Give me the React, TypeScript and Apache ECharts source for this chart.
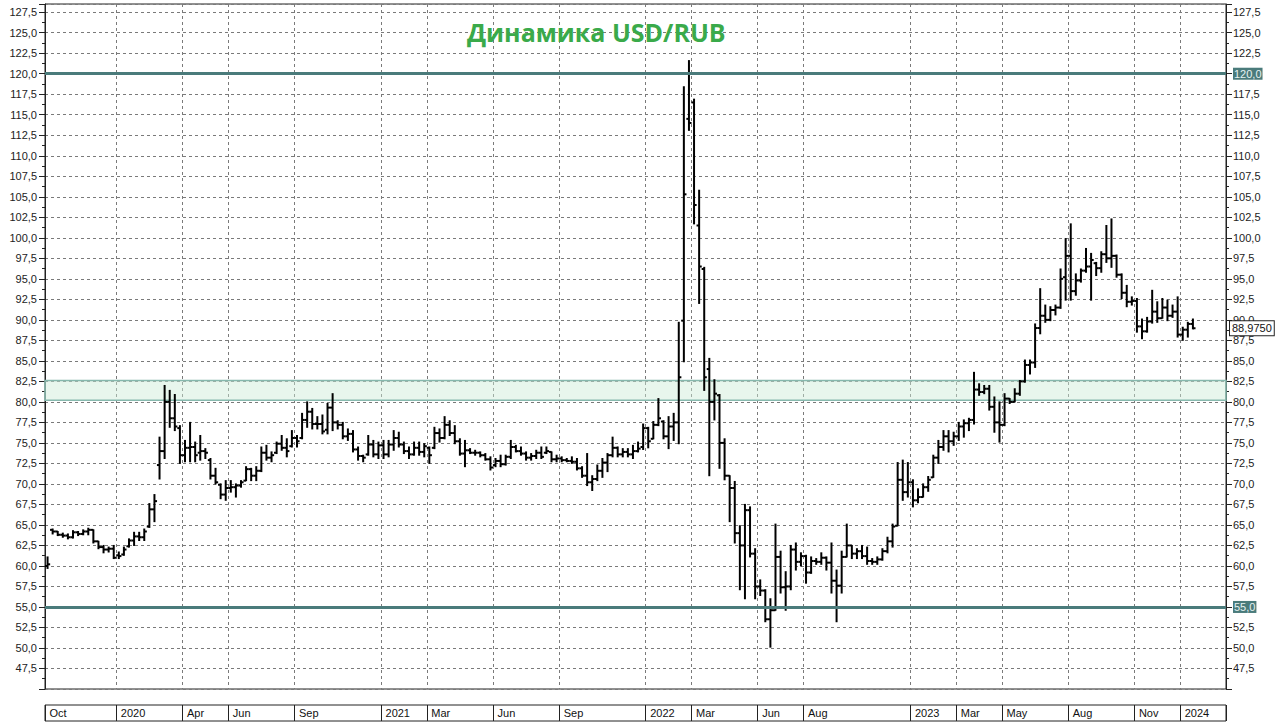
import React, { useEffect, useRef } from 'react';
import * as echarts from 'echarts';

// ---- chart texts & axis ticks ----
const titleText = 'Динамика USD/RUB';
const slotCount = 232; // weekly slots on the time axis (incl. empty slots at right)
const xTickIndex = [0, 14, 27, 36, 49, 66, 75, 88, 101, 118, 127, 140, 149, 170, 179, 188, 201, 214, 223];
const xTickLabels = ['Oct', '2020', 'Apr', 'Jun', 'Sep', '2021', 'Mar', 'Jun', 'Sep', '2022', 'Mar', 'Jun', 'Aug', '2023', 'Mar', 'May', 'Aug', 'Nov', '2024'];
const yMin = 45;
const yMax = 128.5;
const yStep = 2.5;
const levelLines = [120, 55];
const supportZone = [80.2, 82.6];
const lastPrice = 88.975;
const lastPriceLabel = '88,9750';

// ---- weekly OHLC bars: [open, high, low, close] ----
const bars2019 = [
  [60.0, 61.1, 59.7, 60.2], [64.4, 64.5, 63.9, 64.2], [64.2, 64.2, 63.7, 63.8], [63.8, 64.0, 63.5, 63.7],
  [63.7, 63.9, 63.3, 63.5], [63.5, 64.3, 63.4, 64.1], [64.1, 64.2, 63.7, 63.9], [63.9, 64.4, 63.8, 64.2],
  [64.2, 64.6, 63.8, 64.4], [64.4, 64.4, 62.8, 63.0], [63.0, 63.0, 62.1, 62.3], [62.3, 62.5, 61.6, 62.0],
  [62.0, 62.3, 61.7, 62.1], [62.1, 62.5, 60.9, 61.0],
];
const bars2020 = [
  [61.3, 61.7, 60.9, 61.2], [61.4, 62.3, 61.3, 62.0], [62.4, 63.3, 62.3, 63.1], [63.1, 64.1, 62.5, 63.6],
  [63.6, 64.1, 63.1, 63.5], [63.5, 64.5, 63.1, 64.2], [64.8, 67.6, 64.7, 66.9], [66.9, 68.7, 65.4, 67.9],
  [72.3, 75.7, 70.6, 74.0], [74.0, 82.0, 73.1, 80.0], [80.0, 81.4, 76.9, 78.0], [78.0, 80.9, 76.5, 77.0],
  [76.8, 77.1, 72.5, 73.5], [73.5, 75.3, 72.7, 74.4], [74.4, 77.5, 72.7, 74.5], [74.5, 75.1, 72.7, 73.5],
  [73.8, 75.9, 72.9, 74.0], [74.0, 74.3, 73.1, 73.8], [72.9, 73.1, 70.6, 71.0], [71.0, 71.9, 70.0, 70.2],
  [69.9, 70.0, 68.2, 68.7], [68.7, 70.4, 68.0, 69.5], [69.5, 70.4, 69.0, 69.6], [69.6, 70.0, 68.4, 69.8],
  [69.8, 70.4, 69.6, 70.2], [70.4, 72.1, 70.4, 71.8], [71.8, 71.9, 70.4, 71.0], [71.0, 72.1, 70.4, 71.6],
  [71.6, 74.5, 71.5, 73.8], [73.8, 74.7, 72.9, 73.2], [73.2, 73.9, 72.7, 73.5], [73.8, 75.1, 73.7, 74.9],
  [74.9, 75.9, 74.1, 74.4], [74.4, 75.5, 73.3, 74.0], [74.6, 76.5, 74.5, 75.6], [75.6, 75.9, 74.5, 75.2],
  [75.6, 78.6, 75.5, 77.8], [77.8, 80.0, 76.9, 78.8], [78.8, 79.2, 76.7, 77.3], [77.3, 78.2, 76.7, 77.3],
  [77.3, 78.4, 76.1, 76.4], [76.6, 79.8, 76.1, 79.3], [79.3, 81.0, 76.5, 77.5], [77.5, 77.7, 76.7, 77.2],
  [77.2, 77.5, 75.5, 75.8], [75.8, 76.7, 75.3, 76.1], [76.1, 76.5, 73.9, 74.2], [74.2, 74.5, 72.9, 73.4],
  [73.4, 73.5, 72.7, 73.2], [73.6, 75.9, 73.5, 74.8], [74.8, 75.3, 73.3, 73.6], [73.6, 75.1, 73.1, 74.7],
];
const bars2021 = [
  [74.7, 75.3, 73.1, 73.6], [73.6, 75.3, 73.3, 74.8], [74.8, 76.5, 74.1, 75.6], [75.6, 76.3, 74.5, 74.8],
  [74.8, 75.1, 73.7, 74.0], [74.0, 74.5, 73.1, 73.6], [73.6, 75.1, 73.5, 74.4], [74.4, 75.1, 73.5, 73.9],
  [73.9, 74.9, 73.3, 74.6], [74.4, 74.5, 72.5, 73.5], [74.4, 76.9, 74.3, 76.2], [76.2, 76.7, 75.1, 75.6],
  [75.6, 78.2, 75.5, 77.2], [77.2, 77.7, 75.9, 76.2], [76.2, 77.1, 74.9, 75.2], [75.2, 75.5, 73.5, 73.7],
  [73.7, 75.3, 72.1, 74.1], [74.1, 74.3, 73.7, 73.8], [73.8, 74.1, 73.5, 73.8], [73.8, 73.9, 73.3, 73.5],
  [73.5, 73.7, 72.9, 73.0], [73.0, 73.3, 71.7, 72.0], [72.3, 73.1, 72.1, 72.8], [72.8, 73.5, 72.1, 72.4],
  [72.4, 73.5, 72.3, 73.3], [73.3, 75.3, 73.1, 74.5], [74.5, 74.7, 73.9, 74.0], [74.0, 74.5, 73.5, 73.7],
  [73.7, 73.9, 72.9, 73.2], [73.2, 73.7, 72.9, 73.4], [73.4, 74.1, 73.1, 73.8], [73.8, 74.5, 73.1, 73.3],
  [73.8, 74.5, 73.7, 74.0], [73.9, 73.9, 72.7, 73.0], [73.0, 73.5, 72.7, 73.1], [73.1, 73.3, 72.7, 72.9],
  [72.9, 73.1, 72.7, 72.8], [72.8, 73.3, 72.5, 72.7], [72.7, 73.1, 71.7, 71.9], [71.9, 72.1, 70.8, 71.0],
  [71.0, 73.7, 69.8, 70.2], [70.2, 71.0, 69.2, 70.6], [70.6, 72.3, 70.4, 71.6], [71.6, 73.1, 70.8, 72.6],
  [72.6, 73.7, 71.5, 73.5], [73.5, 75.7, 73.3, 74.4], [74.4, 74.5, 73.3, 73.6], [73.6, 74.3, 73.3, 73.9],
  [73.9, 74.3, 73.3, 73.6], [73.6, 74.7, 73.1, 74.0], [74.0, 75.1, 73.9, 74.3], [74.5, 77.3, 74.2, 76.8],
];
const bars2022 = [
  [76.8, 76.9, 74.4, 75.2], [75.5, 77.6, 75.5, 77.2], [77.2, 80.4, 77.1, 78.0], [77.6, 77.7, 75.5, 75.8],
  [75.8, 78.2, 74.3, 77.0], [77.0, 78.6, 75.3, 77.5], [77.5, 89.7, 74.9, 83.0], [89.9, 118.4, 84.9, 105.3],
  [114.5, 121.6, 113.1, 114.0], [116.5, 116.9, 101.7, 104.0], [101.5, 105.8, 92.0, 96.5], [96.2, 96.4, 81.4, 83.0],
  [84.0, 85.3, 71.0, 80.0], [80.0, 82.7, 77.8, 81.0], [80.8, 80.9, 71.9, 75.0], [75.0, 75.5, 70.5, 71.0],
  [71.0, 71.0, 65.4, 69.5], [69.5, 70.3, 62.8, 64.0], [64.0, 64.9, 57.1, 62.5], [62.5, 67.5, 56.0, 66.8],
  [66.8, 67.2, 61.1, 61.5], [61.5, 62.1, 56.0, 57.5], [57.5, 58.3, 56.4, 57.0], [57.0, 57.1, 53.2, 53.5],
  [53.5, 56.0, 50.1, 54.6], [54.6, 65.1, 54.6, 61.1], [61.1, 61.8, 56.7, 57.4], [57.4, 59.3, 54.6, 57.5],
  [57.5, 62.5, 57.1, 62.0], [62.0, 62.8, 59.5, 60.5], [60.5, 61.6, 60.0, 61.2], [61.2, 61.3, 57.9, 59.2],
  [59.2, 61.1, 59.1, 60.6], [60.6, 60.9, 60.2, 60.5], [60.5, 61.6, 60.2, 61.0], [61.0, 61.1, 59.5, 60.4],
  [60.4, 62.8, 56.7, 58.2], [58.2, 59.5, 53.2, 57.6], [57.6, 61.8, 56.7, 61.1], [61.1, 65.1, 61.1, 62.5],
  [62.5, 62.5, 60.9, 61.5], [61.5, 62.1, 60.9, 61.8], [61.8, 62.5, 60.9, 61.2], [61.2, 62.3, 60.2, 60.6],
  [60.6, 60.9, 60.2, 60.5], [60.5, 61.1, 60.2, 60.8], [60.8, 62.1, 60.7, 61.8], [61.8, 63.5, 61.6, 63.0],
  [63.0, 65.1, 62.3, 64.8], [64.9, 72.6, 64.9, 70.5], [70.5, 72.9, 68.0, 69.0], [69.0, 72.6, 68.4, 70.2],
];
const bars2023 = [
  [70.2, 70.5, 67.2, 68.0], [68.0, 69.4, 67.7, 68.4], [68.4, 70.0, 68.4, 69.6], [69.6, 70.9, 69.1, 70.5],
  [70.8, 73.5, 70.8, 73.2], [73.2, 75.3, 72.5, 74.5], [74.5, 76.5, 74.1, 75.8], [75.8, 76.5, 73.9, 75.2],
  [75.2, 76.3, 74.7, 75.8], [75.8, 77.5, 75.3, 77.0], [77.0, 77.8, 75.7, 77.4], [77.4, 78.0, 76.5, 77.8],
  [77.8, 83.6, 77.3, 81.5], [81.5, 82.2, 80.8, 81.2], [81.2, 82.0, 81.0, 81.6], [81.6, 82.0, 79.0, 79.4],
  [79.4, 80.6, 76.3, 77.5], [77.5, 80.0, 75.1, 77.2], [77.2, 81.0, 77.1, 80.4], [80.4, 80.4, 79.8, 80.0],
  [80.0, 81.6, 80.0, 81.0], [81.0, 82.6, 80.8, 82.5], [82.5, 85.1, 82.4, 84.5], [84.5, 85.1, 83.4, 84.8],
  [84.8, 89.5, 84.2, 89.0], [89.0, 93.8, 88.3, 90.5], [90.5, 91.8, 89.7, 90.0], [90.0, 91.6, 89.9, 91.2],
  [91.2, 91.8, 90.6, 91.5], [91.5, 96.2, 91.4, 95.0], [95.2, 99.9, 92.4, 97.8], [97.8, 101.7, 92.4, 93.5],
  [93.5, 95.6, 93.0, 94.8], [94.8, 96.2, 94.6, 96.0], [96.0, 98.7, 95.8, 96.5], [96.5, 98.1, 92.4, 97.3],
  [96.9, 97.0, 95.4, 96.3], [96.3, 98.3, 95.8, 98.0], [98.0, 101.5, 97.0, 97.5], [97.5, 102.3, 96.4, 97.8],
  [97.8, 97.9, 95.2, 95.5], [95.5, 95.6, 92.6, 93.3], [93.3, 94.2, 91.6, 92.2], [92.2, 92.8, 91.8, 92.3],
  [92.3, 92.6, 88.5, 89.2], [89.2, 90.1, 87.7, 88.6], [88.6, 90.3, 88.5, 89.8], [89.8, 93.6, 89.6, 91.0],
  [91.0, 92.2, 89.7, 90.2], [90.2, 92.6, 90.2, 91.5], [91.5, 92.4, 89.9, 90.5], [90.5, 91.8, 90.3, 91.0],
  [91.0, 92.8, 87.9, 88.2],
];
const bars2024 = [
  [88.2, 89.1, 87.5, 88.8], [88.8, 89.7, 87.9, 89.5], [89.5, 90.1, 88.9, 88.975],
];

const allBars = [...bars2019, ...bars2020, ...bars2021, ...bars2022, ...bars2023, ...bars2024];
const ohlcData = allBars.map((b, i) => [i, b[0], b[1], b[2], b[3]]);
const categories = Array.from({ length: slotCount }, (_, i) => String(i));

const fmt = (v: number) => v.toFixed(1).replace('.', ',');
const isTick = (i: number) => xTickIndex.indexOf(i) >= 0;

const FONT = '"Liberation Sans", Arial, sans-serif';
const TEAL = '#4a7b7b';
const GRID_DASH = { color: '#7a7a7a', type: [3, 3], width: 1 };

export default function App() {
  const ref = useRef<HTMLDivElement>(null);
  useEffect(() => {
    if (!ref.current) return;
    const chart = echarts.init(ref.current, undefined, { renderer: 'svg' });
    const option: any = {
      animation: false,
      backgroundColor: '#ffffff',
      textStyle: { fontFamily: FONT },
      title: {
        text: titleText,
        left: 462,
        top: 14,
        textStyle: { color: '#3aaa4a', fontSize: 25, fontWeight: 'bold', fontFamily: '"Open Sans", sans-serif' },
      },
      grid: [
        { left: 45, top: 4, width: 1181, height: 685, show: true, borderColor: '#222', borderWidth: 1, backgroundColor: 'transparent' },
        { left: 45, top: 705, width: 1181, height: 16, show: true, borderColor: '#222', borderWidth: 1, backgroundColor: '#fff' },
      ],
      xAxis: [
        {
          type: 'category', gridIndex: 0, data: categories, boundaryGap: true,
          axisLine: { show: false }, axisTick: { show: false }, axisLabel: { show: false },
          splitLine: { show: true, interval: (i: number) => isTick(i), lineStyle: GRID_DASH },
        },
        {
          type: 'category', gridIndex: 1, data: categories, boundaryGap: true, position: 'bottom',
          axisLine: { show: false }, axisTick: { show: false },
          axisLabel: {
            show: true, inside: true, margin: 8,
            interval: (i: number) => isTick(i),
            formatter: (v: string) => xTickLabels[xTickIndex.indexOf(Number(v))] || '',
            align: 'left', verticalAlign: 'middle', padding: [0, 0, 0, 2],
            fontSize: 11, color: '#111', fontFamily: FONT,
          },
          splitLine: { show: true, interval: (i: number) => isTick(i), lineStyle: { color: '#222', type: 'solid', width: 1 } },
        },
      ],
      yAxis: [
        {
          type: 'value', gridIndex: 0, position: 'left', min: yMin, max: yMax, interval: yStep,
          axisLine: { show: true, lineStyle: { color: '#222' } },
          axisTick: { show: true, length: 6, lineStyle: { color: '#222' } },
          minorTick: { show: true, splitNumber: 2, length: 3, lineStyle: { color: '#222' } },
          axisLabel: { formatter: fmt, showMinLabel: false, showMaxLabel: false, margin: 8, fontSize: 11, color: '#222', fontFamily: FONT },
          splitLine: { show: true, lineStyle: GRID_DASH },
        },
        {
          type: 'value', gridIndex: 0, position: 'right', min: yMin, max: yMax, interval: yStep,
          axisLine: { show: true, lineStyle: { color: '#222' } },
          axisTick: { show: true, length: 6, lineStyle: { color: '#222' } },
          minorTick: { show: true, splitNumber: 2, length: 3, lineStyle: { color: '#222' } },
          axisLabel: {
            formatter: (v: number) => (levelLines.some((l) => Math.abs(l - v) < 1e-6) ? `{hl|${fmt(v)}}` : fmt(v)),
            showMinLabel: false, showMaxLabel: false, margin: 7, fontSize: 11, color: '#222', fontFamily: FONT,
            rich: { hl: { backgroundColor: TEAL, color: '#e6f2f2', fontSize: 11, fontFamily: FONT, padding: [1, 1, 0, 1] } },
          },
          splitLine: { show: false },
        },
        {
          type: 'value', gridIndex: 1, min: 0, max: 1, show: false,
        },
      ],
      series: [
        {
          type: 'line', xAxisIndex: 0, yAxisIndex: 0, data: [], z: 1, silent: true,
          markArea: {
            silent: true,
            itemStyle: { color: 'rgba(205,236,214,0.45)', borderColor: '#86b8ad', borderWidth: 1.5 },
            data: [[{ yAxis: supportZone[0] }, { yAxis: supportZone[1] }]],
          },
          markLine: {
            silent: true, symbol: ['none', 'none'], animation: false,
            label: { show: false },
            lineStyle: { color: TEAL, width: 3, type: 'solid' },
            data: [
              ...levelLines.map((v) => ({ yAxis: v })),
              {
                yAxis: lastPrice,
                lineStyle: { color: 'rgba(0,0,0,0)', width: 0 },
                label: {
                  show: true, position: 'end', distance: 4, formatter: lastPriceLabel,
                  backgroundColor: '#fff', borderColor: '#222', borderWidth: 1, padding: [2, 2, 1, 2],
                  fontSize: 11, color: '#111', fontFamily: FONT,
                },
              },
            ],
          },
        },
        {
          type: 'custom', xAxisIndex: 0, yAxisIndex: 0, z: 3,
          data: ohlcData,
          encode: { x: 0, y: [1, 2, 3, 4] },
          renderItem: (params: any, api: any) => {
            const idx = api.value(0);
            const pO = api.coord([idx, api.value(1)]);
            const pH = api.coord([idx, api.value(2)]);
            const pL = api.coord([idx, api.value(3)]);
            const pC = api.coord([idx, api.value(4)]);
            const x = pH[0];
            const t = 2.6;
            const st = { stroke: '#000', lineWidth: 2 };
            return {
              type: 'group',
              children: [
                { type: 'line', shape: { x1: x, y1: pH[1] - 0.5, x2: x, y2: Math.max(pL[1], pH[1] + 1) + 0.5 }, style: st },
                { type: 'line', shape: { x1: x - t, y1: pO[1], x2: x, y2: pO[1] }, style: st },
                { type: 'line', shape: { x1: x, y1: pC[1], x2: x + t, y2: pC[1] }, style: st },
              ],
            };
          },
        },
      ],
    };
    chart.setOption(option);
    return () => chart.dispose();
  }, []);
  return <div ref={ref} style={{ position: 'fixed', left: 0, top: 0, width: 1280, height: 723, background: '#fff' }} />;
}
